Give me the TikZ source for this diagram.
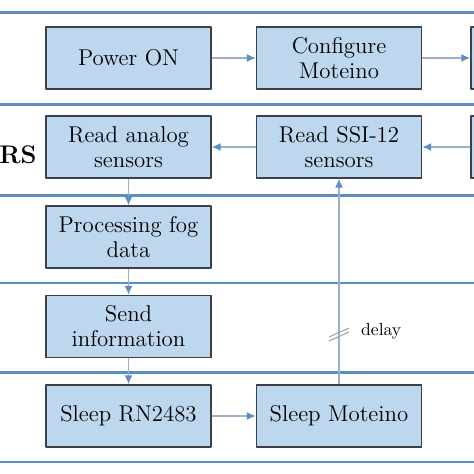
\documentclass[tikz,border=0pt]{standalone}
\usetikzlibrary{arrows.meta}
\definecolor{lanecol}{RGB}{91,142,199}
\definecolor{boxfill}{RGB}{189,215,238}
\definecolor{boxline}{RGB}{60,64,72}
\definecolor{flowcol}{RGB}{155,175,200}
\tikzset{
  lane/.style={draw=lanecol, line width=1.7pt},
  box/.style={draw=boxline, fill=boxfill, line width=1pt, minimum width=3.3cm, minimum height=1.24cm, inner sep=0pt, align=center},
  flow/.style={draw=flowcol, line width=0.6pt, -{Latex[length=5pt,width=4.5pt,color=lanecol]}},
  brkmark/.style={draw=flowcol!80!gray, line width=0.6pt}
}
\begin{document}
\begin{tikzpicture}[x=0.02cm, y=-0.02cm, font=\fontsize{13}{14.2}\selectfont, line join=round]
\useasboundingbox (0,0) rectangle (474,474);
\clip (0,0) rectangle (474,474);
% lanes
\foreach \y in {12.5,104.5,195.5,283,372.5,462}
  \draw[lane] (0,\y) -- (474,\y);
\node[font=\fontsize{14.5}{18}\selectfont\bfseries, anchor=west, inner sep=0pt] (lbl) at (-1,155) {RS};
% boxes
\node[box] (power) at (128.5,58) {Power ON};
\node[box] (config) at (339,58) {Configure\\Moteino};
\node[box] (cont1) at (553.5,58) {};
\node[box] (analog) at (128.5,147) {Read analog\\sensors};
\node[box] (ssi) at (339,147) {Read SSI-12\\sensors};
\node[box] (cont2) at (553.5,147) {};
\node[box] (fog) at (128.5,237) {Processing fog\\data};
\node[box] (send) at (128.5,326.5) {Send\\information};
\node[box] (sleeprn) at (128.5,416) {Sleep RN2483};
\node[box] (sleepmote) at (339,416) {Sleep Moteino};
% connectors
\draw[flow] (power) -- (config);
\draw[flow] (config) -- (cont1);
\draw[flow] (cont2) -- (ssi);
\draw[flow] (ssi) -- (analog);
\draw[flow] (analog) -- (fog);
\draw[flow] (fog) -- (send);
\draw[flow] (send) -- (sleeprn);
\draw[flow] (sleeprn) -- (sleepmote);
\draw[flow] (sleepmote) -- (ssi);
% delay mark
\coordinate (brk) at (339,333);
\draw[brkmark] ([shift={(-10,4)}]brk) -- ([shift={(10,-5)}]brk)
  ([shift={(-10,8)}]brk) -- ([shift={(10,-1)}]brk);
\node[font=\fontsize{10}{12}\selectfont, anchor=west] (dly) at (355,331) {delay};
\end{tikzpicture}
\end{document}
